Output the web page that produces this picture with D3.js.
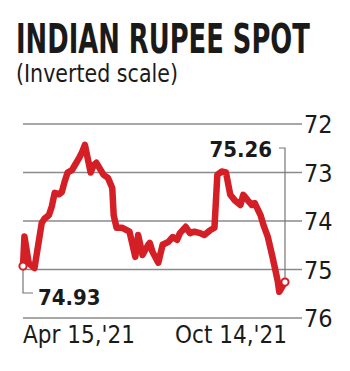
<!DOCTYPE html>
<html><head><meta charset="utf-8">
<script src="https://cdn.jsdelivr.net/npm/d3@7"></script>
<style>
html,body{margin:0;padding:0;background:#fff;}
svg{display:block;}
text{font-family:"Liberation Sans Narrow","DejaVu Sans Condensed","Roboto Condensed",sans-serif;}
</style></head>
<body>
<script>
const title = "INDIAN RUPEE SPOT";
const subtitle = "(Inverted scale)";
const dates = ["2021-04-15","2021-04-16","2021-04-19","2021-04-23","2021-04-28","2021-04-30","2021-05-03","2021-05-05","2021-05-07","2021-05-10","2021-05-12","2021-05-14","2021-05-16","2021-05-19","2021-05-21","2021-05-24","2021-05-26","2021-05-28","2021-06-01","2021-06-03","2021-06-05","2021-06-08","2021-06-10","2021-06-13","2021-06-16","2021-06-17","2021-06-19","2021-06-23","2021-06-28","2021-07-02","2021-07-04","2021-07-07","2021-07-11","2021-07-12","2021-07-14","2021-07-18","2021-07-21","2021-07-25","2021-07-28","2021-07-31","2021-08-02","2021-08-06","2021-08-09","2021-08-12","2021-08-16","2021-08-19","2021-08-23","2021-08-26","2021-08-28","2021-08-31","2021-09-03","2021-09-06","2021-09-09","2021-09-13","2021-09-15","2021-09-18","2021-09-21","2021-09-23","2021-09-27","2021-09-29","2021-10-02","2021-10-05","2021-10-07","2021-10-09","2021-10-10","2021-10-14"];
const values = [74.93,74.32,74.87,74.97,74.04,73.95,73.88,73.70,73.42,73.45,73.40,73.18,73.00,72.95,72.85,72.70,72.58,72.43,73.00,72.85,72.80,72.95,73.05,73.11,73.32,73.88,74.14,74.14,74.22,74.74,74.29,74.70,74.49,74.45,74.64,74.86,74.49,74.43,74.33,74.39,74.25,74.12,74.25,74.22,74.25,74.29,74.19,74.14,73.05,72.98,73.00,73.46,73.57,73.67,73.46,73.57,73.67,73.63,73.88,74.08,74.32,74.70,74.97,75.25,75.46,75.26];
const yTicks = [72,73,74,75,76];
const xLabels = ["Apr 15,'21","Oct 14,'21"];
const startLabel = "74.93";
const endLabel = "75.26";

const W = 350, H = 371;
const parse = d3.timeParse("%Y-%m-%d");
const data = dates.map((d,i)=>({date:parse(d), value:values[i]}));

const svg = d3.select("body").append("svg").attr("width",W).attr("height",H);

function fitText(sel, size, target){
  sel.attr("font-size",size);
  const w = sel.node().getComputedTextLength();
  let fs = size;
  if (w > target) { fs = size*target/w; sel.attr("font-size", fs); }
  return fs;
}
// title: fit width, then stretch vertically to reach the reference cap height (~30px)
const tg = svg.append("g");
const t1 = tg.append("text").attr("x",0).attr("y",0)
  .attr("font-weight","bold").attr("fill","#1a1a1a").text(title);
const fs1 = fitText(t1, 42, 294);
const k1 = Math.max(1, 30/(0.73*fs1));
tg.attr("transform",`translate(16,53) scale(1,${k1})`);

const sg = svg.append("g");
const t2 = sg.append("text").attr("x",0).attr("y",0)
  .attr("fill","#1a1a1a").text(subtitle);
const fs2 = fitText(t2, 25, 162);
const k2 = Math.max(1, 17.5/(0.73*fs2));
sg.attr("transform",`translate(16,82) scale(1,${k2})`);

const x = d3.scaleTime().domain(d3.extent(data,d=>d.date)).range([23,285]);
const y = d3.scaleLinear().domain([72,76]).range([124,318]);

// y axis labels
const yAxis = d3.axisRight(y).tickValues(yTicks).tickSize(0).tickPadding(0).tickFormat(d3.format("d"));
const ga = svg.append("g").attr("transform","translate(303,0)").call(yAxis);
ga.select(".domain").remove();
ga.selectAll("text").attr("font-size",25).attr("fill","#1a1a1a").attr("dy","0.35em").attr("x",1);
// gridlines
svg.append("g").selectAll("line").data(yTicks).join("line")
  .attr("x1",23).attr("x2",302).attr("y1",d=>y(d)).attr("y2",d=>y(d))
  .attr("stroke","#8a8a8a").attr("stroke-width",1.4);

// x labels
const first = data[0], last = data[data.length-1];
svg.append("text").attr("x",x(first.date)).attr("y",343).attr("font-size",24).attr("fill","#1a1a1a")
  .text(xLabels[0]);
svg.append("text").attr("x",x(last.date)+2).attr("y",343).attr("text-anchor","end").attr("font-size",24).attr("fill","#1a1a1a")
  .text(xLabels[1]);

// brackets
const gb = svg.append("g").attr("stroke","#777").attr("stroke-width",1.2).attr("fill","none");
gb.append("path").attr("d",`M${x(first.date)},${y(first.value)} V293 H33`);
gb.append("path").attr("d",`M${x(last.date)},${y(last.value)} V148 H279`);

svg.append("text").attr("x",38).attr("y",305).attr("font-size",22).attr("font-weight","bold").attr("fill","#1a1a1a").text(startLabel);
svg.append("text").attr("x",272).attr("y",157).attr("text-anchor","end").attr("font-size",22).attr("font-weight","bold").attr("fill","#1a1a1a").text(endLabel);

// line
const line = d3.line().x(d=>x(d.date)).y(d=>y(d.value));
svg.append("path").datum(data).attr("d",line).attr("fill","none")
  .attr("stroke","#d41f26").attr("stroke-width",6.5).attr("stroke-linejoin","round").attr("stroke-linecap","round");

svg.selectAll("circle.end").data([first,last]).join("circle")
  .attr("cx",d=>x(d.date)).attr("cy",d=>y(d.value)).attr("r",3.6)
  .attr("fill","#fff").attr("stroke","#d41f26").attr("stroke-width",2);
</script>
</body></html>
